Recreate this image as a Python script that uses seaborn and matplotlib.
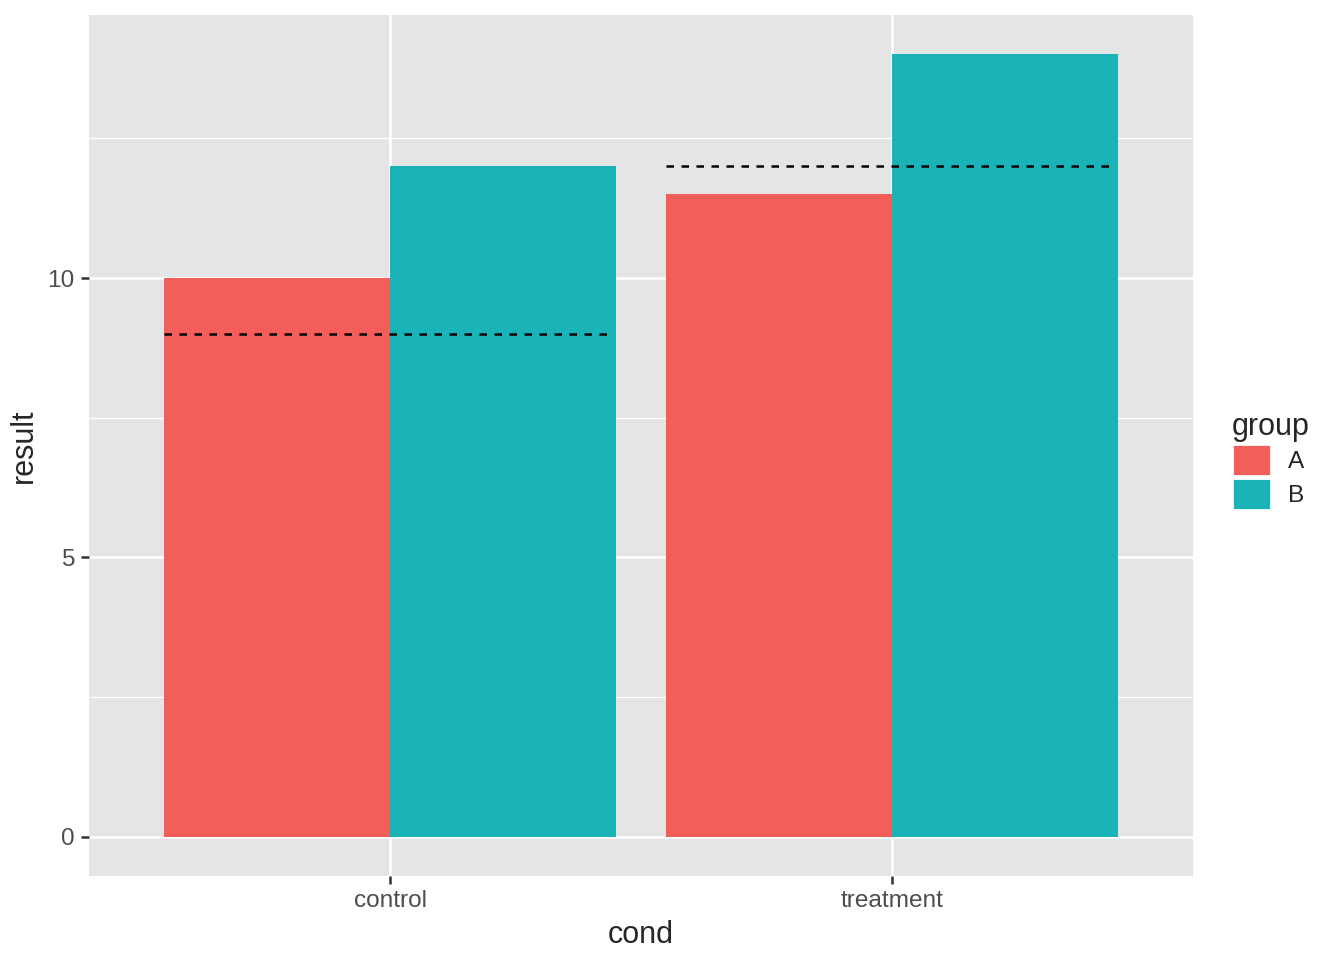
import matplotlib
matplotlib.use("Agg")
import matplotlib.pyplot as plt
import seaborn as sns
import pandas as pd
from matplotlib.patches import Patch

conds = ["control", "treatment"]
groups = ["A", "B"]
results_A = [10, 11.5]
results_B = [12, 14]
hline_vals = [9, 12]
colors = ["#F8766D", "#00BFC4"]
colors = ["#F35E5A", "#19B3B8"]

df = pd.DataFrame({
    "cond": conds * 2,
    "group": ["A"] * 2 + ["B"] * 2,
    "result": results_A + results_B,
})

sns.set_theme(style="darkgrid")
plt.rcParams['font.family'] = ['Liberation Sans', 'DejaVu Sans']
fig = plt.figure(figsize=(6.72, 4.8), dpi=200)
ax = fig.add_axes([0.066, 0.0875, 0.822, 0.8965])
ax.set_facecolor("#E5E5E5")
sns.barplot(data=df, x="cond", y="result", hue="group", order=conds,
            hue_order=groups, palette=colors, width=0.9, gap=0,
            saturation=1, ax=ax, legend=False, zorder=2, linewidth=0)
for i, v in enumerate(hline_vals):
    ax.hlines(v, i - 0.45, i + 0.44, colors="black", linestyles=(0, (3, 3)), linewidth=0.9, zorder=3)

ax.set_xlim(-0.6, 1.6)
ax.set_ylim(-0.7, 14.7)
ax.set_yticks([0, 5, 10])
ax.set_yticks([2.5, 7.5, 12.5], minor=True)
ax.grid(which="major", color="white", linewidth=0.9, zorder=0)
ax.grid(which="minor", color="white", linewidth=0.45, zorder=0)
ax.set_axisbelow(True)
for s in ax.spines.values():
    s.set_visible(False)
ax.tick_params(axis="both", which="major", length=3, width=0.9, color="#333333",
               labelsize=8.8, labelcolor="#4D4D4D", pad=2, left=True, bottom=True)
ax.tick_params(axis="both", which="minor", length=0)
ax.set_xlabel("cond", fontsize=11, labelpad=3)
ax.set_ylabel("result", fontsize=11, labelpad=3)

handles = [Patch(facecolor=c, label=g) for c, g in zip(colors, groups)]
leg = fig.legend(handles=handles, title="group", loc="center left",
                 bbox_to_anchor=(0.9, 0.52), frameon=False, fontsize=8.8,
                 title_fontsize=11, handlelength=1.6, handleheight=1.6,
                 handletextpad=0.7, labelspacing=0.1, alignment="left")
fig.savefig("out.png", dpi=200)
